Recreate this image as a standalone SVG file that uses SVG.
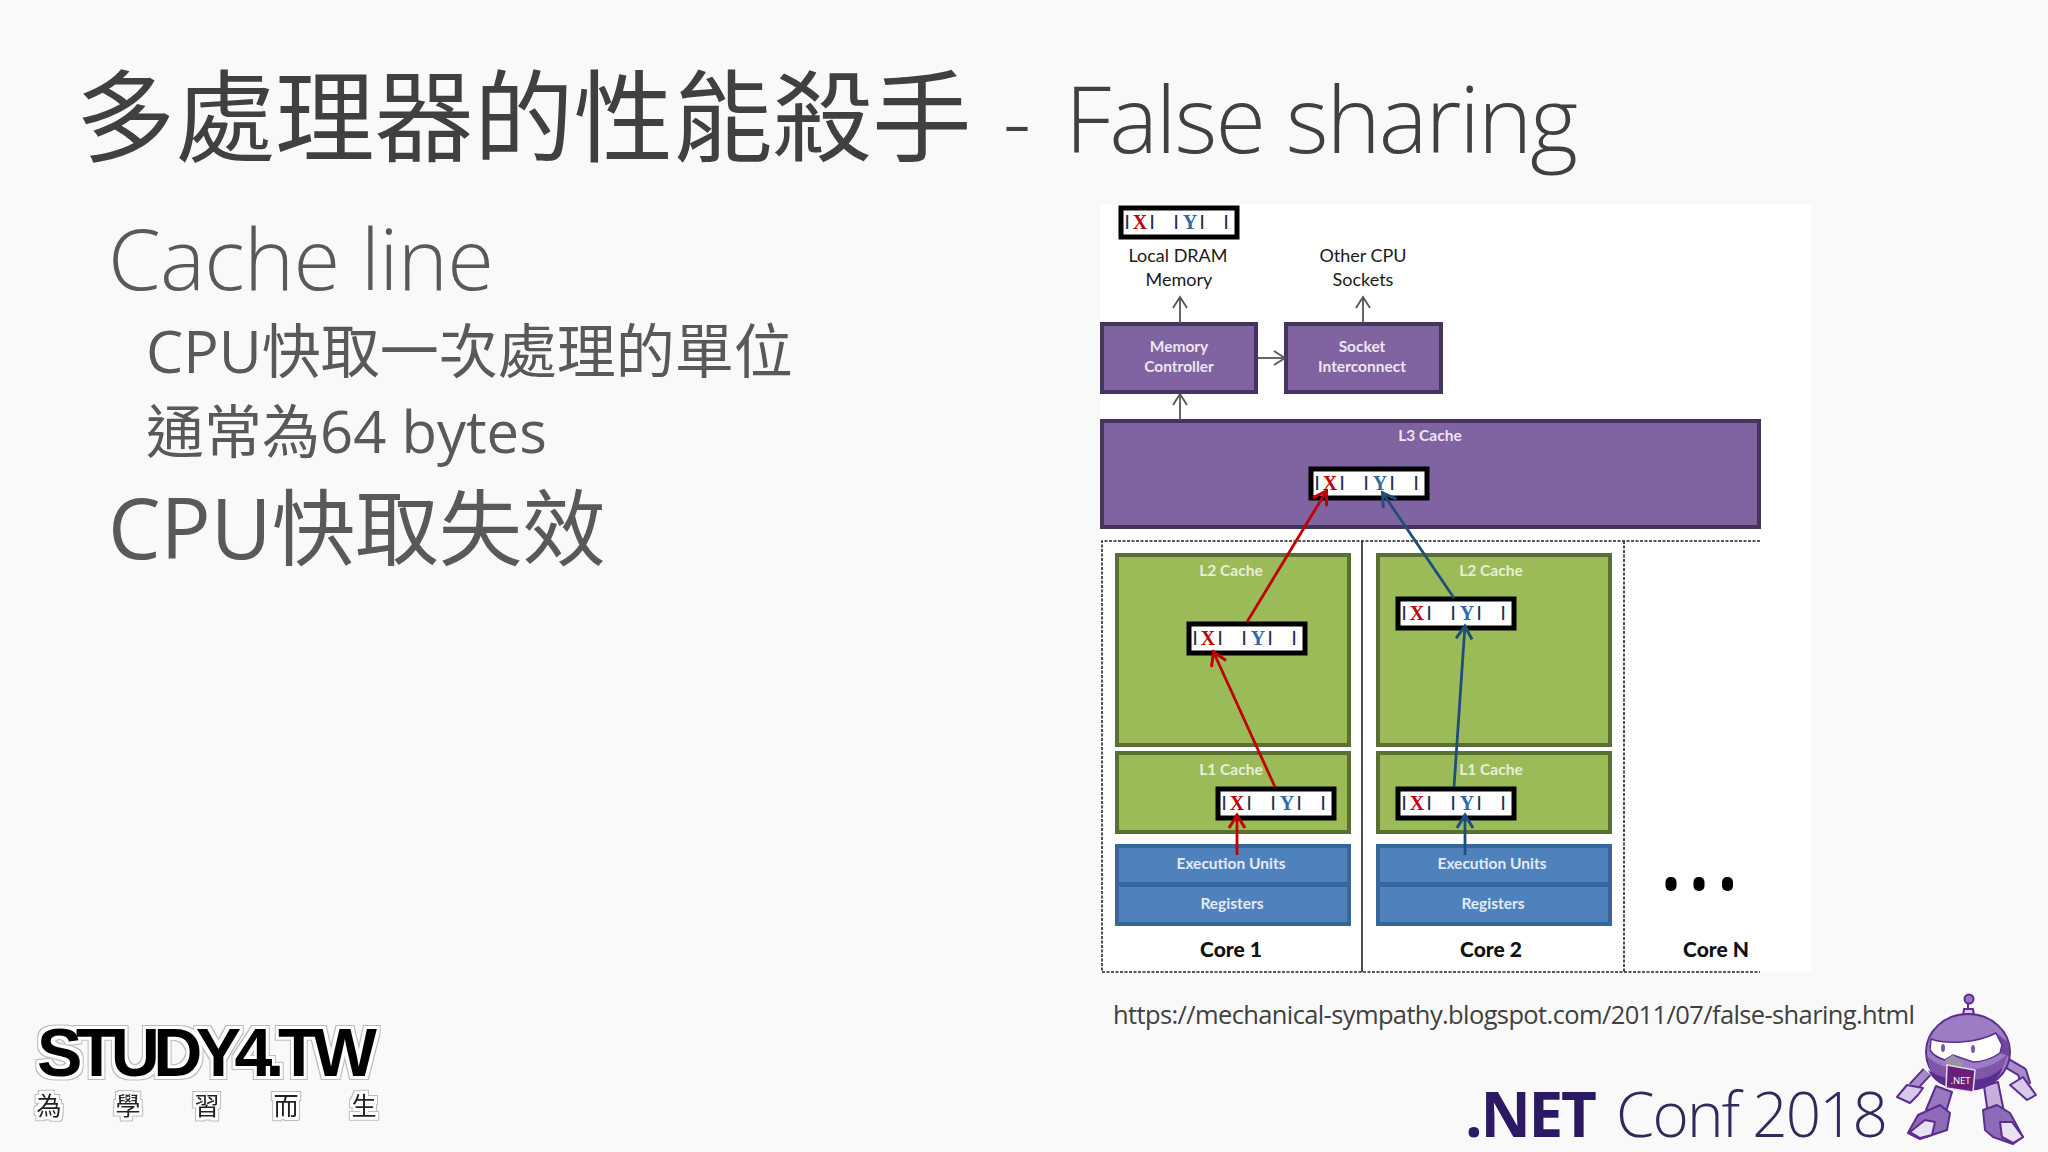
<svg xmlns="http://www.w3.org/2000/svg" width="2048" height="1152" viewBox="0 0 2048 1152">
<style>
.cjk{font-family:"Open Sans","Noto Sans CJK TC",sans-serif}
.t{font-family:Lato,"Liberation Sans",sans-serif;text-anchor:middle}
.blk{font-size:18px;fill:#1a1a1a}
.w{font-size:15.5px;fill:#ebe6f0;font-weight:700}
.g{font-size:15.5px;fill:#e6efd5;font-weight:700}
.b{font-size:15.5px;fill:#e4ebf5;font-weight:700}
.core{font-size:21px;font-weight:900;fill:#111}
.pu{fill:#8064a2;stroke:#453460;stroke-width:4}
.gr{fill:#9bbb59;stroke:#5a7032;stroke-width:4}
.bl{fill:#4f81bd;stroke:#3a659c;stroke-width:4}
.lb{fill:#fff;stroke:#000;stroke-width:5}
.ln{font-family:"Liberation Sans",sans-serif;font-size:15px;font-weight:700;fill:#1f3050;text-anchor:middle}
.x{fill:#c00000;font:700 20px "Liberation Serif",serif}
.y{fill:#2f6aa8;font:700 20px "Liberation Serif",serif}
.rb{stroke:#5c2d91;stroke-width:2;stroke-linejoin:round}
</style>
<defs>
<marker id="ag" markerWidth="14" markerHeight="18" refX="12" refY="8" orient="auto" markerUnits="userSpaceOnUse"><path d="M1 1L12 8L1 15" fill="none" stroke="#555" stroke-width="1.8"/></marker>
<marker id="ar" markerWidth="18" markerHeight="22" refX="16" refY="10" orient="auto" markerUnits="userSpaceOnUse"><path d="M2 2L15 10L2 18" fill="none" stroke="#c00000" stroke-width="3"/></marker>
<marker id="ab" markerWidth="18" markerHeight="22" refX="16" refY="10" orient="auto" markerUnits="userSpaceOnUse"><path d="M2 2L15 10L2 18" fill="none" stroke="#1f4e7d" stroke-width="3"/></marker>
<filter id="halo" x="-10%" y="-30%" width="120%" height="160%" color-interpolation-filters="sRGB">
<feMorphology in="SourceAlpha" operator="dilate" radius="4" result="o"/>
<feFlood flood-color="#bcbcbc"/><feComposite in2="o" operator="in" result="ol"/>
<feMorphology in="SourceAlpha" operator="dilate" radius="3" result="i"/>
<feFlood flood-color="#fff"/><feComposite in2="i" operator="in" result="il"/>
<feMerge><feMergeNode in="ol"/><feMergeNode in="il"/><feMergeNode in="SourceGraphic"/></feMerge>
</filter>
</defs>
<rect width="2048" height="1152" fill="#f9f9f9"/>

<g id="title">
<text x="76" y="154" class="cjk" font-size="99.500" font-weight="400" fill="#404040">多處理器的性能殺手</text>
<text x="1003" y="153" font-family="'Open Sans',sans-serif" font-weight="300" font-size="90" fill="#404040" textLength="28" lengthAdjust="spacingAndGlyphs">-</text>
<text x="1065" y="153" font-family="'Open Sans',sans-serif" font-weight="300" font-size="92" fill="#404040" textLength="513">False sharing</text>
</g>
<g id="body" fill="#595959">
<text x="108" y="290" class="cjk" font-size="85" font-weight="300" textLength="386">Cache line</text>
<text x="146" y="373" class="cjk" font-size="59" font-weight="400">CPU快取一次處理的單位</text>
<text x="146" y="453" class="cjk" font-size="58" font-weight="400">通常為64 bytes</text>
<text x="108" y="559" class="cjk" font-size="83.500" font-weight="400">CPU快取失效</text>
</g>

<rect id="panel" x="1100" y="204" width="711" height="769" fill="#fff"/>

<g id="dashes" fill="none" stroke="#222" stroke-width="1.6">
<path d="M1760 541H1102V972H1760" stroke-dasharray="3 1.5"/>
<path d="M1362 541V972"/>
<path d="M1624 541V972" stroke-dasharray="3 1.5"/>
</g>

<g id="dram"><rect class="lb" x="1121" y="208" width="116" height="29"/>
<text class="ln"><tspan x="1127" y="226">|</tspan><tspan x="1140" y="229" class="x">X</tspan><tspan x="1152" y="226">|</tspan><tspan x="1176" y="226">|</tspan><tspan x="1190" y="229" class="y">Y</tspan><tspan x="1202" y="226">|</tspan><tspan x="1226" y="226">|</tspan></text></g>
<g id="dram-label"><text class="t blk" x="1178" y="262">Local DRAM</text><text class="t blk" x="1179" y="286">Memory</text></g>
<g id="other-label"><text class="t blk" x="1363" y="262">Other CPU</text><text class="t blk" x="1363" y="286">Sockets</text></g>
<g id="mc"><rect class="pu" x="1102" y="324" width="154" height="68"/><text class="t w" x="1179" y="352">Memory</text><text class="t w" x="1179" y="372">Controller</text></g>
<g id="si"><rect class="pu" x="1286" y="324" width="155" height="68"/><text class="t w" x="1362" y="352">Socket</text><text class="t w" x="1362" y="372">Interconnect</text></g>
<g id="l3"><rect class="pu" x="1102" y="421" width="657" height="106"/><text class="t w" x="1430" y="441">L3 Cache</text>
<rect class="lb" x="1311" y="469" width="116" height="29"/>
<text class="ln"><tspan x="1317" y="487">|</tspan><tspan x="1330" y="490" class="x">X</tspan><tspan x="1342" y="487">|</tspan><tspan x="1366" y="487">|</tspan><tspan x="1380" y="490" class="y">Y</tspan><tspan x="1392" y="487">|</tspan><tspan x="1416" y="487">|</tspan></text></g>

<g id="core1">
<rect class="gr" x="1117" y="555" width="232" height="190"/><text class="t g" x="1231" y="576">L2 Cache</text>
<rect class="lb" x="1189" y="624" width="116" height="29"/>
<text class="ln"><tspan x="1195" y="642">|</tspan><tspan x="1208" y="645" class="x">X</tspan><tspan x="1220" y="642">|</tspan><tspan x="1244" y="642">|</tspan><tspan x="1258" y="645" class="y">Y</tspan><tspan x="1270" y="642">|</tspan><tspan x="1294" y="642">|</tspan></text>
<rect class="gr" x="1117" y="753" width="232" height="79"/><text class="t g" x="1231" y="775">L1 Cache</text>
<rect class="lb" x="1218" y="789" width="116" height="29"/>
<text class="ln"><tspan x="1224" y="807">|</tspan><tspan x="1237" y="810" class="x">X</tspan><tspan x="1249" y="807">|</tspan><tspan x="1273" y="807">|</tspan><tspan x="1287" y="810" class="y">Y</tspan><tspan x="1299" y="807">|</tspan><tspan x="1323" y="807">|</tspan></text>
<rect class="bl" x="1117" y="846" width="232" height="38"/><text class="t b" x="1231" y="869">Execution Units</text>
<rect class="bl" x="1117" y="885" width="232" height="39"/><text class="t b" x="1232" y="909">Registers</text>
<text class="t core" x="1231" y="957">Core 1</text>
</g>
<g id="core2">
<rect class="gr" x="1378" y="555" width="232" height="190"/><text class="t g" x="1491" y="576">L2 Cache</text>
<rect class="lb" x="1398" y="599" width="116" height="29"/>
<text class="ln"><tspan x="1404" y="617">|</tspan><tspan x="1417" y="620" class="x">X</tspan><tspan x="1429" y="617">|</tspan><tspan x="1453" y="617">|</tspan><tspan x="1467" y="620" class="y">Y</tspan><tspan x="1479" y="617">|</tspan><tspan x="1503" y="617">|</tspan></text>
<rect class="gr" x="1378" y="753" width="232" height="79"/><text class="t g" x="1491" y="775">L1 Cache</text>
<rect class="lb" x="1398" y="789" width="116" height="29"/>
<text class="ln"><tspan x="1404" y="807">|</tspan><tspan x="1417" y="810" class="x">X</tspan><tspan x="1429" y="807">|</tspan><tspan x="1453" y="807">|</tspan><tspan x="1467" y="810" class="y">Y</tspan><tspan x="1479" y="807">|</tspan><tspan x="1503" y="807">|</tspan></text>
<rect class="bl" x="1378" y="846" width="232" height="38"/><text class="t b" x="1492" y="869">Execution Units</text>
<rect class="bl" x="1378" y="885" width="232" height="39"/><text class="t b" x="1493" y="909">Registers</text>
<text class="t core" x="1491" y="957">Core 2</text>
</g>
<g id="coreN">
<rect x="1665.500" y="877" width="11" height="14" rx="5"/><rect x="1693.500" y="877" width="11" height="14" rx="5"/><rect x="1722" y="877" width="11" height="14" rx="5"/>
<text class="t core" x="1716" y="957">Core N</text>
</g>

<g id="connectors">
<g stroke="#555" fill="none" stroke-width="1.8" marker-end="url(#ag)">
<path d="M1180 323V297"/><path d="M1363 323V297"/><path d="M1258 358H1285"/><path d="M1180 420V394"/>
</g>
<g stroke="#c00000" fill="none" stroke-width="2.8" marker-end="url(#ar)">
<path d="M1237 855V814"/><path d="M1275 787L1213 651"/><path d="M1247 622L1327 490"/>
</g>
<g stroke="#1f4e7d" fill="none" stroke-width="2.8" marker-end="url(#ab)">
<path d="M1465 855V814"/><path d="M1454 787L1465 625"/><path d="M1454 598L1382 492"/>
</g>
</g>

<text id="url" x="1113" y="1024" font-family="'Open Sans',sans-serif" font-size="25.500" fill="#404040" textLength="802">https://mechanical-sympathy.blogspot.com/2011/07/false-sharing.html</text>

<g id="study4">
<text x="37" y="1076" font-family="'Liberation Sans',sans-serif" font-weight="700" font-size="68" fill="#000" textLength="340" filter="url(#halo)">STUDY4.TW</text>
<g class="cjk" font-size="25" fill="#222" text-anchor="middle" filter="url(#halo)">
<text x="49" y="1115">為</text><text x="128" y="1115">學</text><text x="207" y="1115">習</text><text x="286" y="1115">而</text><text x="364" y="1115">生</text></g>
</g>

<g id="netconf">
<text x="1465" y="1137" font-family="'Open Sans',sans-serif" font-weight="700" font-size="62" fill="#2b1a63" textLength="132">.NET</text>
<text x="1616" y="1137" font-family="'Open Sans',sans-serif" font-weight="300" font-size="62" fill="#2f2a5c" textLength="272">Conf 2018</text>
</g>

<g id="robot">
<path d="M1927 1072L1913 1087M2005 1062L2022 1072L2026 1085" fill="none" stroke="#5c2d91" stroke-width="11" stroke-linejoin="round"/>
<path d="M1927 1072L1913 1087M2005 1062L2022 1072L2026 1085" fill="none" stroke="#a98cc9" stroke-width="7" stroke-linejoin="round"/>
<path class="rb" d="M1897 1097L1907 1085L1923 1088L1918 1095L1910 1103Z" fill="#d9c8e8"/>
<path class="rb" d="M2010 1085L2023 1077L2036 1095L2027 1100L2018 1092Z" fill="#d9c8e8"/>
<path class="rb" d="M1936 1086L1952 1092L1946 1112L1926 1110Z" fill="#9a78c0"/>
<path class="rb" d="M1984 1086L1998 1082L2004 1112L1988 1114Z" fill="#c4b0da"/>
<path class="rb" d="M1908 1133L1918 1115L1940 1105L1950 1113L1947 1130L1920 1139Z" fill="#8e6bb8"/>
<path class="rb" d="M1910 1132L1925 1120L1935 1122L1932 1135L1920 1138Z" fill="#e9e0f2"/>
<path class="rb" d="M1985 1130L1983 1110L1997 1105L2010 1113L2023 1137L2013 1144L1993 1137Z" fill="#8e6bb8"/>
<path class="rb" d="M2000 1122L2012 1122L2023 1137L2013 1143L2002 1137Z" fill="#e9e0f2"/>
<path class="rb" d="M1968 1013V1003" stroke-width="5" fill="none"/>
<circle class="rb" cx="1969" cy="999" r="4.500" fill="#9a78c0"/>
<path class="rb" d="M1964 1009H1973L1974 1016H1963Z" fill="#d9c8e8"/>
<ellipse class="rb" cx="1968" cy="1052" rx="42" ry="38" fill="#9c7cc2"/>
<path d="M1927 1056C1945 1075 1990 1075 2009 1052L2002 1070C1985 1085 1945 1085 1930 1070Z" fill="#7e57a8"/>
<path d="M1928 1070C1945 1082 1985 1086 2002 1068C2000 1080 1985 1090 1965 1090C1945 1090 1932 1080 1928 1070Z" fill="#5c2d91"/>
<path d="M1996 1033L2009 1043L2009 1056L2000 1053L2002 1045Z" fill="#6f489d"/>
<path d="M1931 1039C1945 1044 1975 1044 1996 1033L2002 1045L2000 1053C1990 1060 1982 1062 1973 1062L1953 1055L1945 1060C1938 1058 1933 1055 1930 1050Z" fill="#fff" stroke="#5c2d91" stroke-width="1.500"/>
<path d="M1945 1060L1953 1055L1963 1062L1962 1068L1948 1066Z" fill="#9a93a3"/>
<ellipse cx="1943" cy="1048" rx="2" ry="4" fill="#7a5aa5"/><ellipse cx="1973" cy="1049" rx="2" ry="4" fill="#7a5aa5"/>
<path d="M1947 1065L1975 1070L1973 1092L1946 1088Z" fill="#68217a" stroke="#e4daef" stroke-width="1.500"/>
<text x="1960.500" y="1084" font-family="'Open Sans',sans-serif" font-size="9.500" fill="#fff" text-anchor="middle">.NET</text>
</g>
</svg>
